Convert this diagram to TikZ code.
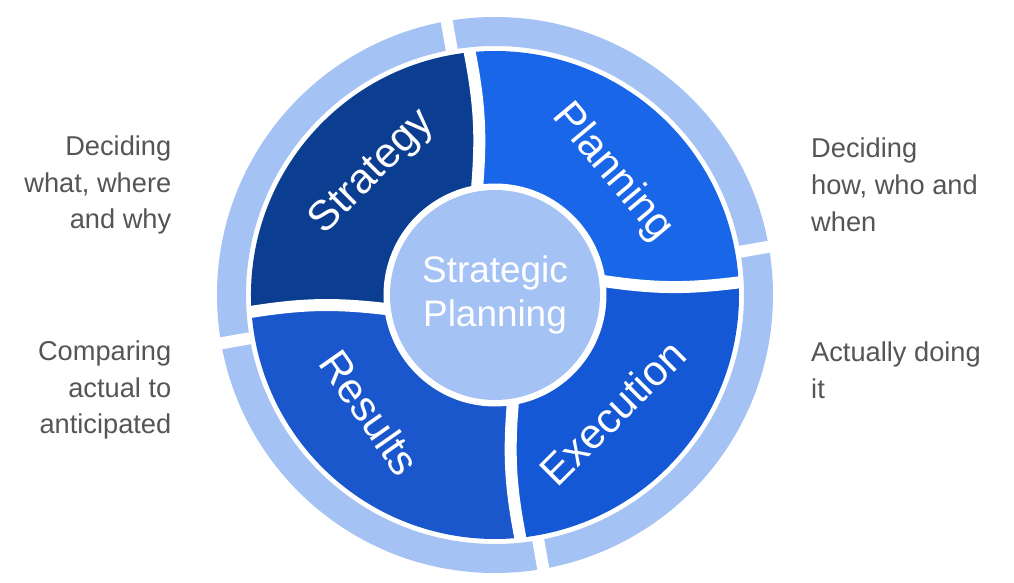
\documentclass[tikz,border=0pt]{standalone}
\usepackage{fontspec}
\setmainfont{Liberation Sans}
\usetikzlibrary{calc}
\definecolor{ringblue}{HTML}{A4C2F4}
\definecolor{stratblue}{HTML}{0B3D91}
\definecolor{planblue}{HTML}{1A66E8}
\definecolor{execblue}{HTML}{1558D6}
\definecolor{resblue}{HTML}{1A56CC}
\definecolor{sidegray}{HTML}{555555}
\begin{document}
\begin{tikzpicture}[
    % Stijlen
    gap/.style={white, line width=0.24cm},
    segtext/.style={text=white, font=\fontsize{24}{28}\selectfont},
    sidetext/.style={text=sidegray, font=\fontsize{15.5}{21}\selectfont}
  ]
  \useasboundingbox[fill=white] (-9.9,-5.76) rectangle (10.38,5.9);

  % --- Parameters ---
  \def\rOut{5.56}   % buitenring
  \def\rRing{4.98}  % binnenkant ring
  \def\rSeg{4.88}   % segmenten
  \def\rIn{2.1}     % middencirkel

  % --- Ring ---
  \fill[ringblue, even odd rule] (0,0) circle (\rOut) (0,0) circle (\rRing);
  \foreach \a in {100,10,-80,190}
    \draw[gap] (\a:4.8) -- (\a:5.7);

  % --- Segmenten ---
  \fill[stratblue] (0,0) -- (96:\rSeg) arc (96:184:\rSeg) -- cycle;
  \fill[planblue] (0,0) -- (3:\rSeg) arc (3:96:\rSeg) -- cycle;
  \fill[execblue] (0,0) -- (-84:\rSeg) arc (-84:3:\rSeg) -- cycle;
  \fill[resblue] (0,0) -- (184:\rSeg) arc (184:276:\rSeg) -- cycle;

  % scheidingslijnen
  \draw[gap] (100:\rIn) to[bend right=8] (96:\rSeg+0.05);
  \draw[gap] (8:\rIn) to[bend right=8] (3:\rSeg+0.05);
  \draw[gap] (-80:\rIn) to[bend right=8] (-84:\rSeg+0.05);
  \draw[gap] (188:\rIn) to[bend right=8] (184:\rSeg+0.05);

  % --- Midden ---
  \fill[white] (0,0) circle (\rIn+0.13);
  \node[circle, fill=ringblue, minimum size=2*\rIn cm, inner sep=0pt,
        align=center, text=white, font=\fontsize{21}{25}\selectfont] (center) at (0,0) {Strategic\\Planning};

  % --- Labels ---
  \node[segtext, rotate=45] (strategy) at (-2.45,2.45) {Strategy};
  \node[segtext, rotate=-50] (planning) at (2.35,2.45) {Planning};
  \node[segtext, rotate=45] (execution) at (2.35,-2.35) {Execution};
  \node[segtext, rotate=-55] (results) at (-2.5,-2.35) {Results};

  % --- Zijteksten ---
  \node[sidetext, anchor=east, align=right] (whatwhy) at (-6.35,2.2) {Deciding\\what, where\\and why};
  \node[sidetext, anchor=east, align=right] (compare) at (-6.35,-1.9) {Comparing\\actual to\\anticipated};
  \node[sidetext, anchor=west, align=left] (howwho) at (6.2,2.2) {Deciding\\how, who and\\when};
  \node[sidetext, anchor=west, align=left] (doing) at (6.2,-1.5) {Actually doing\\it};
\end{tikzpicture}
\end{document}
